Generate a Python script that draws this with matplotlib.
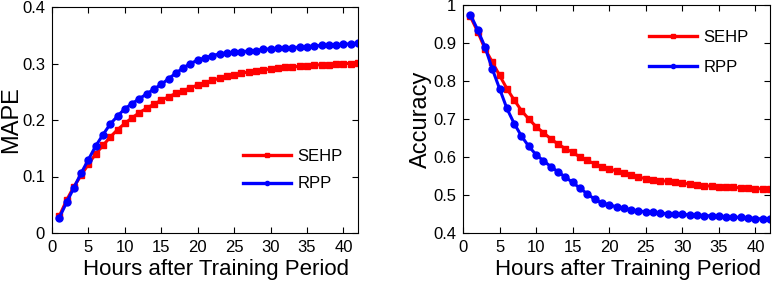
import matplotlib.pyplot as plt
import numpy as np

plt.rcParams['font.family'] = ['Liberation Sans', 'DejaVu Sans']

hours = list(range(1, 43))

mape_sehp = [0.030, 0.058, 0.082, 0.102, 0.122, 0.140, 0.155, 0.170, 0.183, 0.194,
             0.204, 0.213, 0.221, 0.228, 0.235, 0.241, 0.247, 0.252, 0.257, 0.262,
             0.266, 0.270, 0.274, 0.277, 0.280, 0.283, 0.285, 0.287, 0.289, 0.290,
             0.292, 0.293, 0.294, 0.295, 0.296, 0.297, 0.298, 0.298, 0.299, 0.300,
             0.300, 0.301]
mape_rpp = [0.027, 0.054, 0.080, 0.106, 0.130, 0.154, 0.174, 0.193, 0.207, 0.220,
            0.229, 0.238, 0.246, 0.255, 0.263, 0.273, 0.283, 0.292, 0.300, 0.306,
            0.310, 0.314, 0.317, 0.319, 0.320, 0.321, 0.322, 0.323, 0.325, 0.326,
            0.327, 0.327, 0.328, 0.329, 0.330, 0.331, 0.332, 0.333, 0.333, 0.334,
            0.335, 0.336]

acc_sehp = [0.970, 0.930, 0.885, 0.850, 0.815, 0.780, 0.750, 0.722, 0.700, 0.680,
            0.664, 0.648, 0.634, 0.622, 0.612, 0.600, 0.591, 0.582, 0.575, 0.569,
            0.563, 0.557, 0.552, 0.547, 0.543, 0.540, 0.538, 0.536, 0.533, 0.531,
            0.529, 0.527, 0.525, 0.523, 0.522, 0.521, 0.520, 0.519, 0.518, 0.517,
            0.516, 0.515]
acc_rpp = [0.975, 0.935, 0.890, 0.832, 0.780, 0.728, 0.688, 0.655, 0.628, 0.606,
           0.590, 0.575, 0.561, 0.547, 0.533, 0.518, 0.503, 0.489, 0.479, 0.474,
           0.469, 0.465, 0.461, 0.458, 0.456, 0.454, 0.452, 0.451, 0.450, 0.449,
           0.448, 0.447, 0.446, 0.445, 0.444, 0.443, 0.442, 0.441, 0.440, 0.438,
           0.437, 0.436]

xticks = [0, 5, 10, 15, 20, 25, 30, 35, 40]

fig = plt.figure(figsize=(7.73, 2.83), dpi=100)
ax1 = fig.add_axes([52/773, 1-233/283, 306/773, 226/283])
ax2 = fig.add_axes([463/773, 1-233/283, 307/773, 228/283])

def style(ax):
	ax.set_xlim(0, 42)
	ax.set_xticks(xticks)
	ax.tick_params(direction='in', top=True, right=True, labelsize=12, length=4, pad=5)
	ax.set_xlabel('Hours after Training Period', fontsize=16)
	ax.xaxis.set_label_coords(0.536, -0.115)

def legend(ax, x, y, spacing):
	leg = ax.legend(loc='upper left', bbox_to_anchor=(x, y), frameon=False, fontsize=12,
		handlelength=2.9, handletextpad=0.35, borderpad=0, borderaxespad=0,
		labelspacing=spacing, markerscale=0.6)
	for line in leg.get_lines():
		line.set_linewidth(2.4)

ax1.plot(hours, mape_sehp, color='red', marker='s', markersize=4.5, linewidth=2.2, label='SEHP')
ax1.plot(hours, mape_rpp, color='blue', marker='o', markersize=5, linewidth=2.2, label='RPP')
ax1.set_ylim(0, 0.4)
ax1.set_yticks([0, 0.1, 0.2, 0.3, 0.4])
ax1.set_yticklabels(['0', '0.1', '0.2', '0.3', '0.4'])
ax1.set_ylabel('MAPE', fontsize=17)
ax1.yaxis.set_label_coords(-0.097, 0.5)
style(ax1)
legend(ax1, (243-52)/306, (233-149)/226, 0.75)

ax2.plot(hours, acc_sehp, color='red', marker='s', markersize=4.5, linewidth=2.2, label='SEHP')
ax2.plot(hours, acc_rpp, color='blue', marker='o', markersize=5, linewidth=2.2, label='RPP')
ax2.set_ylim(0.4, 1.0)
ax2.set_yticks([0.4, 0.5, 0.6, 0.7, 0.8, 0.9, 1.0])
ax2.set_yticklabels(['0.4', '0.5', '0.6', '0.7', '0.8', '0.9', '1'])
ax2.set_ylabel('Accuracy', fontsize=17)
ax2.yaxis.set_label_coords(-0.101, 0.5)
style(ax2)
legend(ax2, (649-463)/307, (233-30)/228, 0.9)

fig.savefig('out.png', dpi=100)
